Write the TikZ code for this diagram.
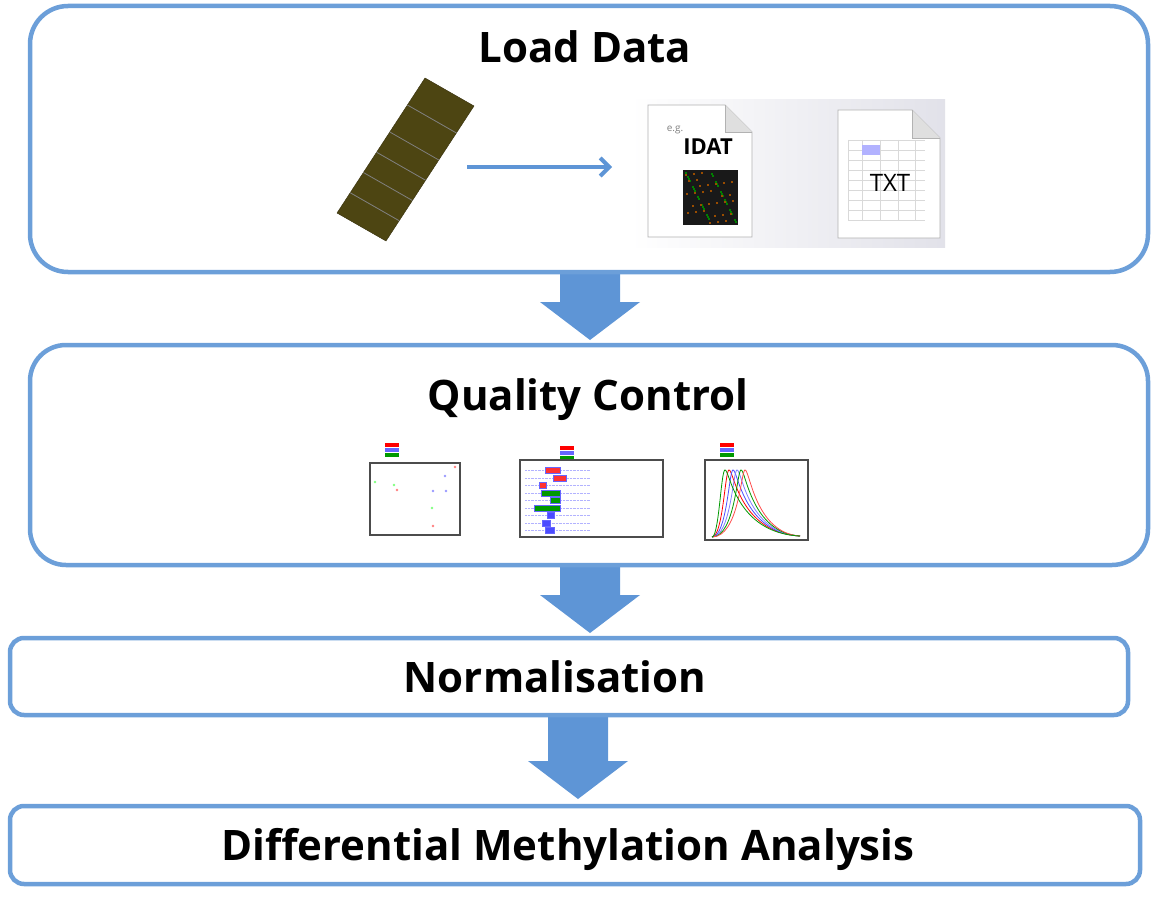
\documentclass[tikz,border=0pt]{standalone}
\usepackage{fontspec}
\setmainfont{Open Sans}
\usetikzlibrary{arrows.meta, positioning, calc}
\definecolor{frameblue}{HTML}{6C9FD9}
\definecolor{arrowblue}{HTML}{5E95D6}
\definecolor{chipolive}{HTML}{4D4512}
\tikzset{
  stage/.style={draw=frameblue, line width=4.5pt, fill=white},
  title/.style={font=\fontsize{42}{48}\selectfont\bfseries},
  doc/.style={draw=gray!60, fill=white, line width=0.8pt},
  plotbox/.style={draw=black!70, line width=1.2pt, fill=white},
  pics/flow/.style={code={
    \fill[arrowblue] (-30,0) -- (30,0) -- (30,#1-38) -- (50,#1-38) -- (0,#1) -- (-50,#1-38) -- (-30,#1-38) -- cycle;
  }}
}
\begin{document}
\begin{tikzpicture}[x=1pt, y=-1pt]
  \useasboundingbox (0,0) rectangle (1170,915);

  % Flow arrows between the stages
  \pic at (590,270) {flow=70};
  \pic at (590,563) {flow=70};
  \pic at (578,713) {flow=86};

  % Stage frames
  \draw[stage, rounded corners=38pt] (30,6) rectangle (1148,272);
  \draw[stage, rounded corners=36pt] (30,345) rectangle (1148,565);
  \draw[stage, rounded corners=14pt] (10,638) rectangle (1128,715);
  \draw[stage, rounded corners=14pt] (10,806) rectangle (1140,884);

  \node[title] (load) at (585,47) {Load Data};
  \node[title] (qc) at (588,400) {Quality Control};
  \node[title] (norm) at (555,677) {Normalisation};
  \node[title] (diff) at (568,849) {Differential Methylation Analysis};

  % Chip
  \draw[fill=chipolive, draw=chipolive!70!black] (425,78) -- (474,106) -- (386,241) -- (337,213) -- cycle;
  \foreach \t in {0.2,0.4,0.55,0.7,0.85}
    \draw[black!50, line width=0.8pt] ($(425,78)!\t!(337,213)$) -- ($(474,106)!\t!(386,241)$);

  % File panel
  \shade[left color=white, right color=blue!15!gray!20] (630,100) rectangle (945,247);
  \coordinate (chip) at (467,167);
  \coordinate (panel) at (612,167);
  \draw[arrowblue, line width=4pt, -{Straight Barb[length=9pt, width=18pt]}] (chip) -- (panel);

  % IDAT document
  \draw[doc] (648,105) -- (725,105) -- (752,132) -- (752,237) -- (648,237) -- cycle;
  \draw[doc, fill=gray!25] (725,105) -- (725,132) -- (752,132);
  \node[font=\fontsize{10}{11}\selectfont, text=gray] (eg) at (675,130) {e.g.};
  \node[font=\fontsize{22}{24}\selectfont\bfseries, inner sep=0pt] (idat) at (708,147) {IDAT};
  \fill[black!90] (683,170) rectangle (738,225);
  \foreach \i in {0,...,30}
    \fill[green!50!black] ({685+mod(\i*37,51)},{172+mod(\i*23,51)}) rectangle ++(2,2);
  \foreach \i in {0,...,30}
    \fill[orange!60!black] ({685+mod(\i*29+11,51)},{172+mod(\i*41+7,51)}) rectangle ++(2,2);

  % TXT document
  \draw[doc] (838,110) -- (912,110) -- (940,138) -- (940,238) -- (838,238) -- cycle;
  \draw[doc, fill=gray!25] (912,110) -- (912,138) -- (940,138);
  \foreach \y in {140,150,...,220}
    \draw[gray!30] (848,\y) -- (925,\y);
  \foreach \x in {848,862,880,898,915}
    \draw[gray!30] (\x,140) -- (\x,220);
  \fill[blue!30] (862,145) rectangle (880,155);
  \node[font=\fontsize{24}{26}\selectfont, inner sep=0pt] (txt) at (890,183) {TXT};

  % QC plots: PCA scatter
  \foreach \c [count=\k] in {red,blue!60,green!60!black}
    \fill[\c] (385,{438+5*\k}) rectangle ++(14,4);
  \draw[plotbox] (370,463) rectangle (460,535);
  \foreach \px/\py/\c in {375/482/green!50, 394/485/green!50, 397/490/red!50, 455/467/red!50, 445/476/blue!40,
      446/491/blue!40, 433/491/blue!40, 432/508/green!50, 433/526/red!50}
    \fill[\c] (\px,\py) circle (1.3pt);

  % QC plots: boxplots
  \foreach \c [count=\k] in {red,blue!60,green!60!black}
    \fill[\c] (560,{441+5*\k}) rectangle ++(14,4);
  \draw[plotbox] (520,460) rectangle (663,537);
  \foreach \a/\b/\c [count=\k] in {545/560/red!80, 553/566/red!80, 539/546/red!80, 541/560/green!60!black,
      550/560/green!60!black, 534/560/green!60!black, 547/554/blue!70, 542/550/blue!70, 545/554/blue!70}
  {
    \draw[blue!30, densely dotted] (525,{463+7.5*\k}) -- (590,{463+7.5*\k});
    \draw[blue!60, fill=\c] (\a,{460+7.5*\k}) rectangle (\b,{466+7.5*\k});
  }

  % QC plots: density
  \foreach \c [count=\k] in {red,blue!60,green!60!black}
    \fill[\c] (720,{438+5*\k}) rectangle ++(14,4);
  \draw[plotbox] (705,460) rectangle (808,540);
  \foreach \m/\c in {729/red, 733/blue!70, 737/blue!50, 741/green!60!black, 745/red!70, 725/green!60!black}
    \draw[\c, line width=0.8pt] (712,537) .. controls (\m-6,537) and (\m-4,470) .. (\m,470)
      .. controls (\m+5,470) and (\m+10,533) .. (800,536);

\end{tikzpicture}
\end{document}
